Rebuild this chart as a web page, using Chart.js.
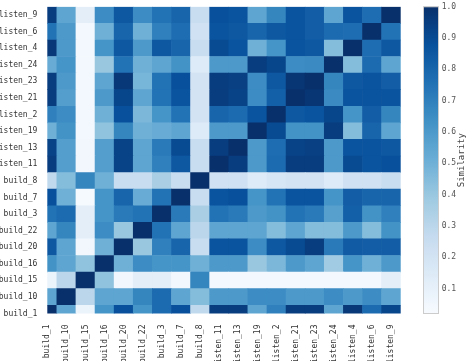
<!DOCTYPE html>
<html>
<head>
<meta charset="utf-8">
<script src="https://cdn.jsdelivr.net/npm/chart.js@4.4.1/dist/chart.umd.min.js"></script>
<style>
  html, body { margin: 0; padding: 0; background: #fff; }
  #wrap { width: 474px; height: 361px; }
</style>
</head>
<body>
<div id="wrap"><canvas id="heatmap"></canvas></div>
<script>
// row/column order, bottom row and left column first
const categories = [
  'build_1', 'build_10', 'build_15', 'build_16', 'build_20', 'build_22', 'build_3', 'build_7', 'build_8',
  'listen_11', 'listen_13', 'listen_19', 'listen_2', 'listen_21', 'listen_23', 'listen_24', 'listen_4', 'listen_6', 'listen_9',
]

// similarity[row][col], rows and cols in the order of categories
const similarity = [
  [1.00, 0.55, 0.08, 0.62, 0.88, 0.62, 0.78, 0.88, 0.28, 0.95, 0.95, 0.55, 0.70, 0.95, 0.95, 0.55, 0.97, 0.78, 0.92],
  [0.55, 1.00, 0.30, 0.55, 0.55, 0.68, 0.78, 0.55, 0.45, 0.60, 0.60, 0.65, 0.65, 0.60, 0.60, 0.65, 0.60, 0.65, 0.55],
  [0.08, 0.30, 1.00, 0.42, 0.05, 0.12, 0.12, 0.05, 0.68, 0.04, 0.04, 0.04, 0.04, 0.04, 0.04, 0.04, 0.04, 0.04, 0.12],
  [0.63, 0.55, 0.42, 1.00, 0.50, 0.65, 0.62, 0.62, 0.50, 0.60, 0.60, 0.40, 0.47, 0.60, 0.55, 0.38, 0.62, 0.50, 0.60],
  [0.85, 0.55, 0.05, 0.50, 1.00, 0.40, 0.70, 0.80, 0.25, 0.87, 0.87, 0.65, 0.85, 0.90, 0.95, 0.72, 0.84, 0.83, 0.83],
  [0.55, 0.68, 0.12, 0.65, 0.40, 1.00, 0.75, 0.55, 0.30, 0.55, 0.55, 0.55, 0.45, 0.55, 0.45, 0.45, 0.60, 0.45, 0.63],
  [0.75, 0.78, 0.12, 0.62, 0.72, 0.75, 1.00, 0.72, 0.35, 0.75, 0.72, 0.60, 0.63, 0.75, 0.72, 0.57, 0.82, 0.63, 0.70],
  [0.88, 0.50, 0.03, 0.62, 0.80, 0.52, 0.75, 1.00, 0.25, 0.87, 0.88, 0.62, 0.75, 0.87, 0.87, 0.62, 0.83, 0.80, 0.80],
  [0.28, 0.45, 0.68, 0.50, 0.25, 0.25, 0.35, 0.25, 1.00, 0.22, 0.22, 0.15, 0.18, 0.20, 0.20, 0.15, 0.22, 0.22, 0.25],
  [0.95, 0.58, 0.05, 0.58, 0.93, 0.55, 0.70, 0.85, 0.25, 1.00, 0.95, 0.60, 0.78, 0.95, 0.95, 0.60, 0.90, 0.87, 0.88],
  [0.93, 0.58, 0.05, 0.58, 0.93, 0.55, 0.72, 0.90, 0.25, 0.95, 1.00, 0.60, 0.77, 0.93, 0.94, 0.60, 0.87, 0.87, 0.85],
  [0.50, 0.63, 0.04, 0.42, 0.68, 0.50, 0.52, 0.55, 0.15, 0.60, 0.60, 1.00, 0.90, 0.63, 0.63, 0.95, 0.45, 0.80, 0.55],
  [0.70, 0.65, 0.04, 0.50, 0.88, 0.47, 0.62, 0.75, 0.20, 0.80, 0.78, 0.87, 1.00, 0.85, 0.87, 0.92, 0.62, 0.83, 0.68],
  [0.95, 0.58, 0.04, 0.60, 0.92, 0.55, 0.75, 0.87, 0.20, 0.95, 0.93, 0.65, 0.82, 1.00, 0.98, 0.66, 0.87, 0.87, 0.87],
  [0.95, 0.60, 0.04, 0.55, 0.97, 0.48, 0.75, 0.88, 0.20, 0.95, 0.94, 0.65, 0.85, 0.98, 1.00, 0.68, 0.85, 0.87, 0.83],
  [0.52, 0.62, 0.04, 0.40, 0.75, 0.50, 0.55, 0.63, 0.15, 0.60, 0.60, 0.95, 0.92, 0.65, 0.66, 1.00, 0.45, 0.78, 0.55],
  [0.97, 0.60, 0.04, 0.62, 0.85, 0.60, 0.85, 0.80, 0.25, 0.90, 0.87, 0.50, 0.62, 0.87, 0.85, 0.45, 1.00, 0.77, 0.85],
  [0.75, 0.60, 0.04, 0.50, 0.80, 0.50, 0.70, 0.77, 0.22, 0.87, 0.85, 0.80, 0.85, 0.87, 0.83, 0.78, 0.77, 1.00, 0.75],
  [0.95, 0.55, 0.12, 0.65, 0.85, 0.65, 0.75, 0.80, 0.25, 0.88, 0.87, 0.55, 0.68, 0.87, 0.83, 0.55, 0.87, 0.77, 1.00],
]

const colorbarTicks = [0.1, 0.2, 0.3, 0.4, 0.5, 0.6, 0.7, 0.8, 0.9, 1.0]
const vmin = 0.02
const vmax = 1.0

// matplotlib "Blues"
const blues = [
  [247, 251, 255], [222, 235, 247], [198, 219, 239], [158, 202, 225], [107, 174, 214],
  [66, 146, 198], [33, 113, 181], [8, 81, 156], [8, 48, 107],
]

function colorFor(v) {
  let t = (v - vmin) / (vmax - vmin)
  t = Math.min(1, Math.max(0, t))
  const pos = t * (blues.length - 1)
  const i = Math.min(blues.length - 2, Math.floor(pos))
  const f = pos - i
  const c = blues[i].map((a, k) => Math.round(a + (blues[i + 1][k] - a) * f))
  return `rgb(${c[0]},${c[1]},${c[2]})`
}

const datasets = similarity.map((row, r) => ({
  label: categories[r],
  data: row.map((v, c) => ({ x: c, y: [r - 0.5, r + 0.5] })),
  backgroundColor: row.map(colorFor),
  borderWidth: 0,
  barPercentage: 1,
  categoryPercentage: 1,
  grouped: false,
}))

const colorbar = {
  id: 'colorbar',
  afterDraw(chart) {
    const { ctx } = chart
    const cb = chart.scales.cb
    const top = cb.getPixelForValue(vmax)
    const bottom = cb.getPixelForValue(vmin)
    const x = 423.5
    const w = 15
    const grad = ctx.createLinearGradient(0, bottom, 0, top)
    blues.forEach((c, i) => grad.addColorStop(i / (blues.length - 1), `rgb(${c[0]},${c[1]},${c[2]})`))
    ctx.save()
    ctx.fillStyle = grad
    ctx.fillRect(x, top, w, bottom - top)
    ctx.strokeStyle = '#cccccc'
    ctx.lineWidth = 1
    ctx.strokeRect(x, top, w, bottom - top)

    ctx.translate(462, (top + bottom) / 2)
    ctx.rotate(-Math.PI / 2)
    ctx.font = '9px "DejaVu Sans Mono"'
    ctx.fillStyle = '#444'
    ctx.textAlign = 'center'
    ctx.textBaseline = 'middle'
    ctx.fillText('Similarity', 0, 0)
    ctx.restore()
  },
}

const categoryTicks = (scale) => {
  scale.ticks = categories.map((c, i) => ({ value: i }))
}

Chart.defaults.font.family = '"DejaVu Sans Mono", monospace'
Chart.defaults.font.size = 8
Chart.defaults.color = '#333'

new Chart(document.getElementById('heatmap'), {
  type: 'bar',
  data: { datasets },
  plugins: [colorbar],
  options: {
    responsive: true,
    maintainAspectRatio: false,
    animation: false,
    events: [],
    layout: { padding: { top: 6.7, left: 0, right: 0, bottom: 0 } },
    plugins: {
      legend: { display: false },
      tooltip: { enabled: false },
    },
    scales: {
      x: {
        type: 'linear',
        min: 0,
        max: 18.5,
        offset: false,
        grid: { display: false, offset: false },
        border: { display: false },
        afterBuildTicks: categoryTicks,
        afterFit: (scale) => { scale.height = 361 - 313.5 },
        ticks: {
          autoSkip: false,
          minRotation: 90,
          maxRotation: 90,
          padding: 3,
          callback: (v) => categories[v],
        },
      },
      y: {
        type: 'linear',
        min: 0,
        max: 18.5,
        grid: { display: false },
        border: { display: false },
        afterBuildTicks: categoryTicks,
        afterFit: (scale) => { scale.width = 47.3 },
        ticks: {
          autoSkip: false,
          padding: 2,
          callback: (v) => categories[v],
        },
      },
      cb: {
        type: 'linear',
        axis: 'y',
        position: 'right',
        min: vmin,
        max: vmax,
        // invisible tick marks only push the labels past the colour bar
        grid: { display: true, drawOnChartArea: false, drawTicks: true, tickLength: 39, color: 'rgba(0,0,0,0)' },
        border: { display: false },
        afterBuildTicks: (scale) => { scale.ticks = colorbarTicks.map((v) => ({ value: v })) },
        afterFit: (scale) => { scale.width = 474 - 400.7 },
        ticks: {
          color: '#555',
          padding: 2,
          callback: (v) => v.toFixed(1),
        },
      },
    },
  },
})
</script>
</body>
</html>
